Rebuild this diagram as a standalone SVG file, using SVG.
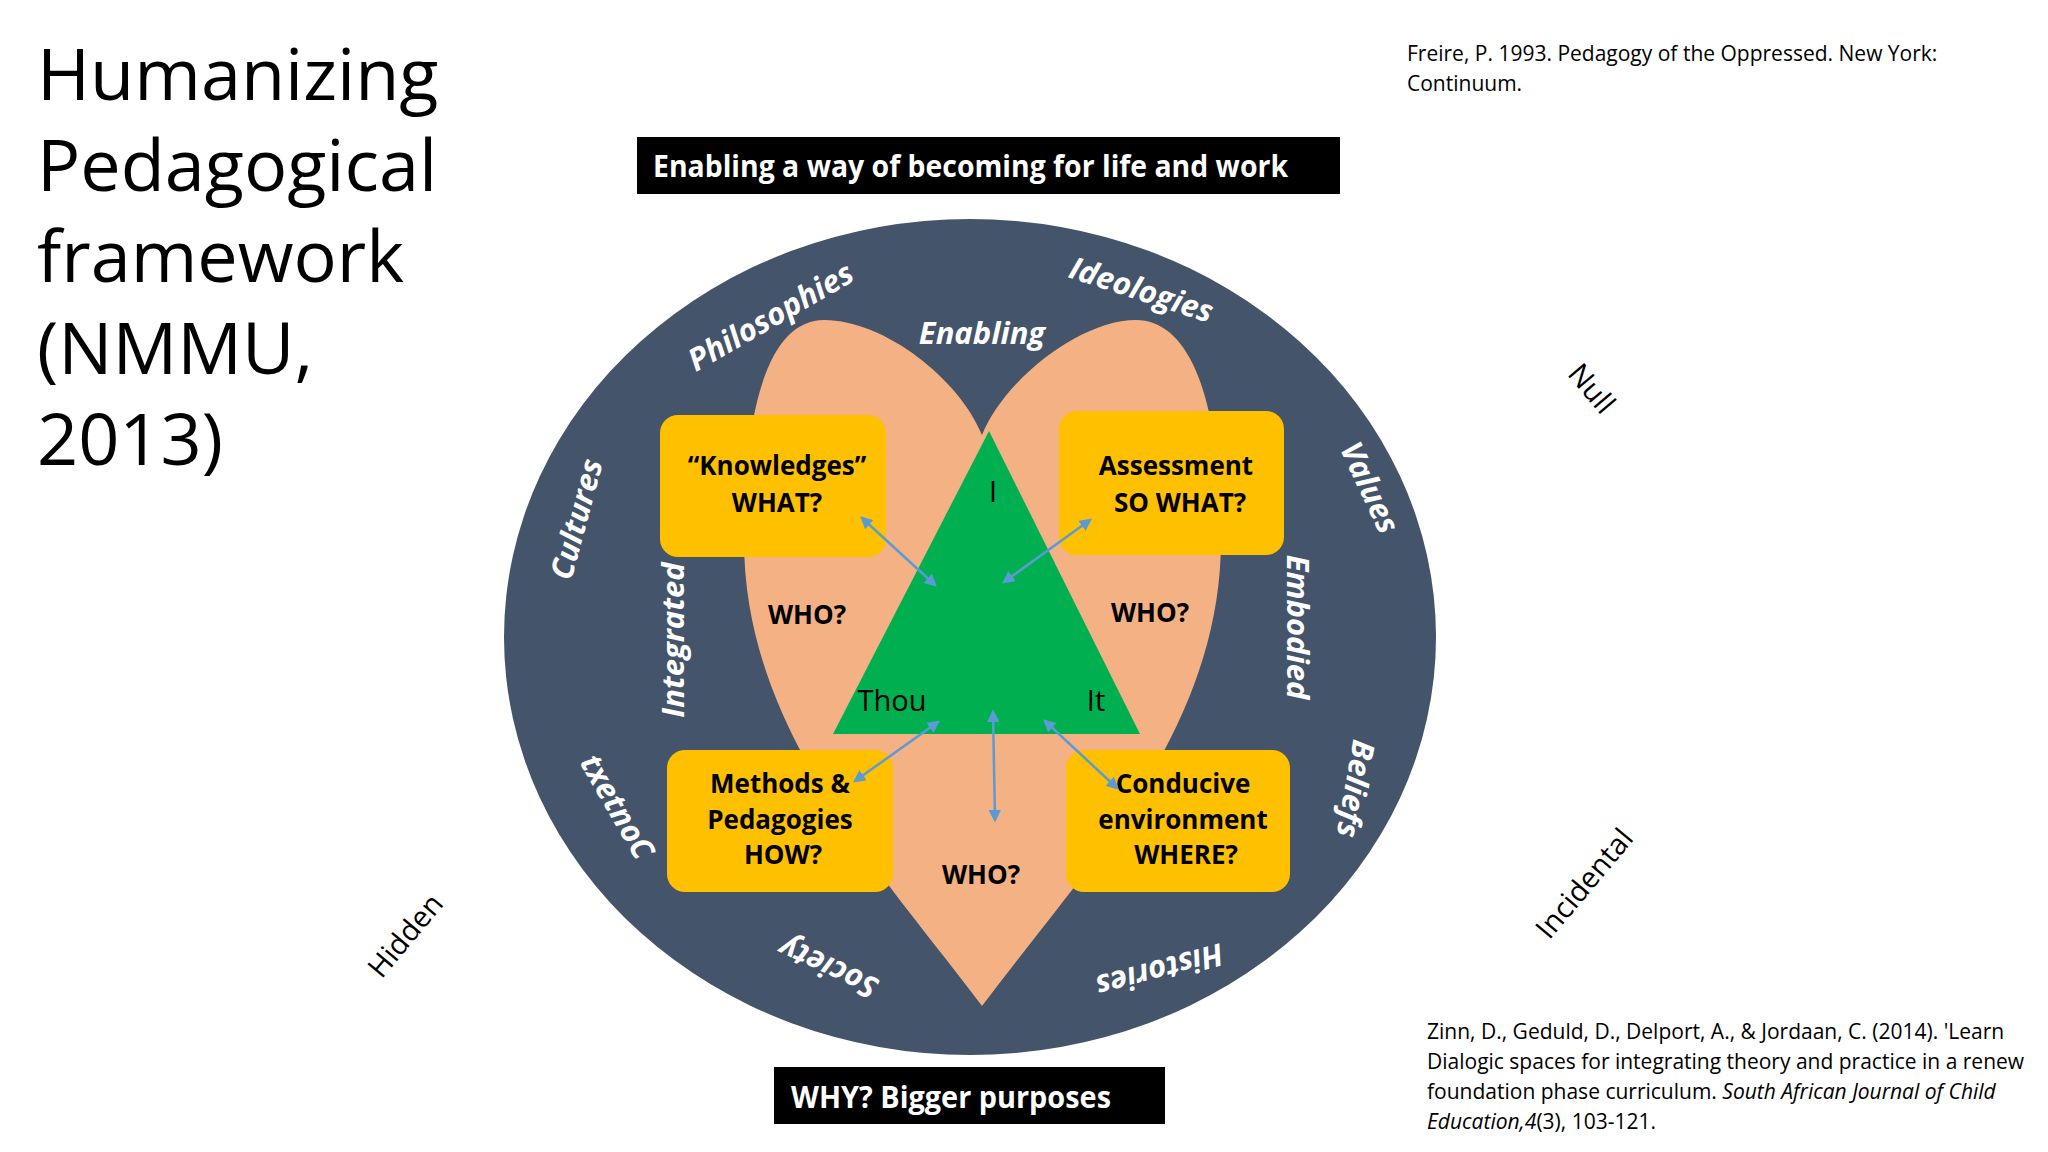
<svg xmlns="http://www.w3.org/2000/svg" width="2048" height="1152" viewBox="0 0 2048 1152">
<defs>
<style>
.t{font-family:"Open Sans","Liberation Sans",sans-serif}
.title{font-size:72px;fill:#000}
.ref{font-size:21px;fill:#000}
.rim{font-size:31px;fill:#fff;font-weight:bold;font-style:italic;text-anchor:middle}
.box{fill:#FFC000}
.bt{font-size:26px;font-weight:bold;fill:#000;text-anchor:middle}
.out{font-size:29px;fill:#000;text-anchor:middle}
.ar{stroke:#5B9BD5;stroke-width:2.5;fill:none;marker-start:url(#ah);marker-end:url(#ah)}
</style>
<marker id="ah" viewBox="0 0 10 10" refX="8" refY="5" markerWidth="5" markerHeight="5" orient="auto-start-reverse"><path d="M0,0 L10,5 L0,10 Z" fill="#5B9BD5"/></marker>
</defs>
<rect width="2048" height="1152" fill="#fff"/>
<g id="title" class="t title">
<text x="37" y="100">Humanizing</text>
<text x="37" y="191">Pedagogical</text>
<text x="37" y="282">framework</text>
<text x="37" y="374">(NMMU,</text>
<text x="37" y="465">2013)</text>
</g>
<g id="ref1" class="t ref">
<text x="1407" y="61">Freire, P. 1993. Pedagogy of the Oppressed. New York:</text>
<text x="1407" y="91">Continuum.</text>
</g>
<g id="ref2" class="t ref">
<text x="1427" y="1039">Zinn, D., Geduld, D., Delport, A., &amp; Jordaan, C. (2014). 'Learn</text>
<text x="1427" y="1069">Dialogic spaces for integrating theory and practice in a renew</text>
<text x="1427" y="1099">foundation phase curriculum. <tspan font-style="italic">South African Journal of Child</tspan></text>
<text x="1427" y="1129"><tspan font-style="italic">Education,4</tspan>(3), 103-121.</text>
</g>
<g id="topbox">
<rect x="637" y="137" width="703" height="57" fill="#000"/>
<text class="t" x="653" y="177" font-size="30" font-weight="bold" fill="#fff" textLength="635" lengthAdjust="spacingAndGlyphs">Enabling a way of becoming for life and work</text>
</g>
<g id="circle">
<ellipse cx="970" cy="637" rx="466" ry="418" fill="#44546A"/>
</g>
<g id="heart">
<path d="M982,1006 C880,870 744,730 744,540 C744,390 775,320 824,320 C885,320 960,380 982,435 C1004,380 1080,320 1136,320 C1190,320 1221,400 1221,540 C1221,730 1084,870 982,1006 Z" fill="#F4B183"/>
</g>
<g id="rimtext" class="t">
<text class="rim" transform="translate(776,326) rotate(-30)">Philosophies</text>
<text class="rim" transform="translate(982,344)">Enabling</text>
<text class="rim" transform="translate(1138,300) rotate(18)">Ideologies</text>
<text class="rim" transform="translate(1360,492) rotate(65)">Values</text>
<text class="rim" transform="translate(1287,627) rotate(90)">Embodied</text>
<text class="rim" transform="translate(1345,787) rotate(100)">Beliefs</text>
<text class="rim" transform="translate(1157,960) rotate(165)">Histories</text>
<text class="rim" transform="translate(833,958) rotate(-155)">Society</text>
<text class="rim" transform="translate(608,812) rotate(60)" direction="rtl" unicode-bidi="bidi-override">Context</text>
<text class="rim" transform="translate(587,522) rotate(-75)">Cultures</text>
<text class="rim" transform="translate(684,640) rotate(-90)">Integrated</text>
</g>
<g id="triangle">
<path d="M989,431 L1140,734 L833,734 Z" fill="#00B050"/>
<text class="t" x="993" y="502" font-size="29" text-anchor="middle">I</text>
<text class="t" x="892" y="711" font-size="29" text-anchor="middle">Thou</text>
<text class="t" x="1096" y="711" font-size="29" text-anchor="middle">It</text>
</g>
<g id="who" class="t">
<text class="bt" x="807" y="624">WHO?</text>
<text class="bt" x="1150" y="622">WHO?</text>
<text class="bt" x="981" y="884">WHO?</text>
</g>
<g id="knowledges" class="t">
<rect class="box" x="660" y="415" width="226" height="142" rx="18"/>
<text class="bt" x="777" y="475">“Knowledges”</text>
<text class="bt" x="777" y="512">WHAT?</text>
</g>
<g id="assessment" class="t">
<rect class="box" x="1059" y="411" width="225" height="144" rx="18"/>
<text class="bt" x="1176" y="475">Assessment</text>
<text class="bt" x="1180" y="512">SO WHAT?</text>
</g>
<g id="methods" class="t">
<rect class="box" x="667" y="750" width="226" height="142" rx="18"/>
<text class="bt" x="780" y="793">Methods &amp;</text>
<text class="bt" x="780" y="829">Pedagogies</text>
<text class="bt" x="783" y="864">HOW?</text>
</g>
<g id="conducive" class="t">
<rect class="box" x="1066" y="750" width="224" height="142" rx="18"/>
<text class="bt" x="1183" y="793">Conducive</text>
<text class="bt" x="1183" y="829">environment</text>
<text class="bt" x="1186" y="864">WHERE?</text>
</g>
<g id="connectors">
<line class="ar" x1="862" y1="518" x2="935" y2="585"/>
<line class="ar" x1="1090" y1="520" x2="1004" y2="582"/>
<line class="ar" x1="938" y1="722" x2="855" y2="781"/>
<line class="ar" x1="993" y1="712" x2="995" y2="820"/>
<line class="ar" x1="1045" y1="721" x2="1117" y2="788"/>
</g>
<g id="outer" class="t">
<text class="out" transform="translate(1584,395) rotate(50)">Null</text>
<text class="out" transform="translate(1592,890) rotate(-50)">Incidental</text>
<text class="out" transform="translate(413,942) rotate(-50)">Hidden</text>
</g>
<g id="bottombox">
<rect x="774" y="1067" width="391" height="57" fill="#000"/>
<text class="t" x="791" y="1108" font-size="30" font-weight="bold" fill="#fff" textLength="320" lengthAdjust="spacingAndGlyphs">WHY? Bigger purposes</text>
</g>
</svg>
